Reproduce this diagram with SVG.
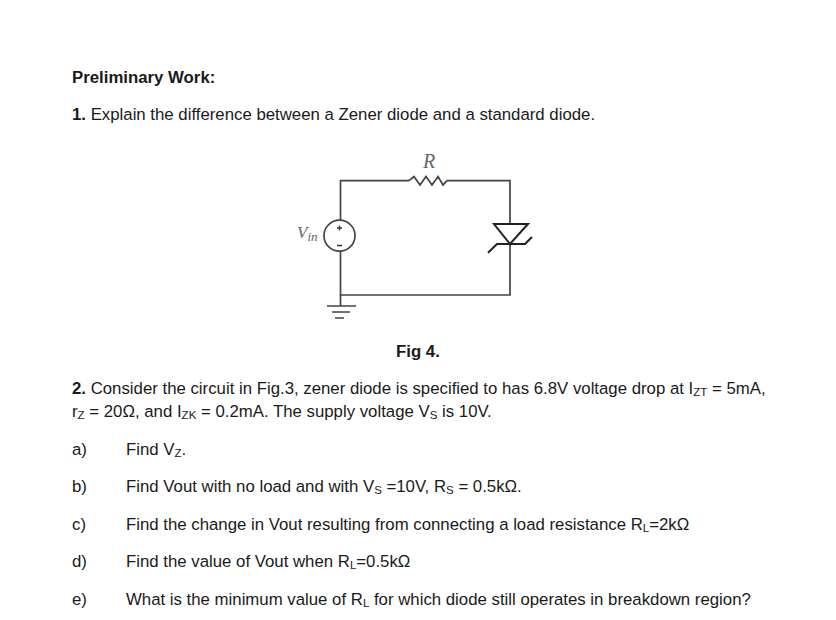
<svg xmlns="http://www.w3.org/2000/svg" width="836" height="620" viewBox="0 0 836 620">
<style>
text{font-family:"Liberation Sans",Arial,sans-serif;font-size:16.8px;fill:#1a1a1a}
.b{font-weight:bold}
.s{font-size:11.500px}
.w{fill:none;stroke:#444;stroke-width:1.700}
.d{fill:none;stroke:#222;stroke-width:2}
.m{font-family:"Liberation Serif",serif;font-style:italic;fill:#666}
</style>
<rect width="836" height="620" fill="#fff"/>
<g id="text-heading">
<text class="b" x="72" y="83">Preliminary Work:</text>
<text x="72" y="120"><tspan class="b">1.</tspan> Explain the difference between a Zener diode and a standard diode.</text>
</g>
<g id="connectors">
<path class="w" d="M340.5 220V180.700H409M447 180.700H510V224M510 244V295H340.500V251"/>
<path class="w" d="M340.500 295V306"/>
</g>
<g id="node-resistor">
<path class="w" d="M409 180.700L414 176.500L420 185L426 176.500L432 185L438 176.500L443 185L447 180.700"/>
<text class="m" x="423" y="168" style="font-size:20px">R</text>
</g>
<g id="node-source">
<circle class="w" cx="339.500" cy="235.700" r="15.500"/>
<path d="M337 228H342M339.500 225.500V230.500M337 245.500H342" fill="none" stroke="#333" stroke-width="1.300"/>
<text class="m" x="297" y="238" style="font-size:17px">V<tspan dy="3" style="font-size:13px">in</tspan></text>
</g>
<g id="node-zener">
<path class="d" d="M494 224H528L510 244ZM488 252.700L497 244H525L532 237"/>
</g>
<g id="node-ground">
<path class="w" d="M327 306H356M332 312H350M335 318H344"/>
</g>
<g id="text-body">
<text class="b" x="396" y="357">Fig 4.</text>
<text x="72" y="394"><tspan class="b">2.</tspan> Consider the circuit in Fig.3, zener diode is specified to has 6.8V voltage drop at I<tspan class="s" dy="2">ZT</tspan><tspan dy="-2"> = 5mA,</tspan></text>
<text x="72" y="417">r<tspan class="s" dy="2">Z</tspan><tspan dy="-2"> = 20Ω, and I</tspan><tspan class="s" dy="2">ZK</tspan><tspan dy="-2"> = 0.2mA. The supply voltage V</tspan><tspan class="s" dy="2">S</tspan><tspan dy="-2"> is 10V.</tspan></text>
<text x="72" y="455">a)</text>
<text x="126" y="455">Find V<tspan class="s" dy="2">Z</tspan><tspan dy="-2">.</tspan></text>
<text x="72" y="492">b)</text>
<text x="126" y="492">Find Vout with no load and with V<tspan class="s" dy="2">S</tspan><tspan dy="-2"> =10V, R</tspan><tspan class="s" dy="2">S</tspan><tspan dy="-2"> = 0.5kΩ.</tspan></text>
<text x="72" y="530">c)</text>
<text x="126" y="530">Find the change in Vout resulting from connecting a load resistance R<tspan class="s" dy="2">L</tspan><tspan dy="-2">=2kΩ</tspan></text>
<text x="72" y="567">d)</text>
<text x="126" y="567">Find the value of Vout when R<tspan class="s" dy="2">L</tspan><tspan dy="-2">=0.5kΩ</tspan></text>
<text x="72" y="605">e)</text>
<text x="126" y="605">What is the minimum value of R<tspan class="s" dy="2">L</tspan><tspan dy="-2"> for which diode still operates in breakdown region?</tspan></text>
</g>
</svg>
